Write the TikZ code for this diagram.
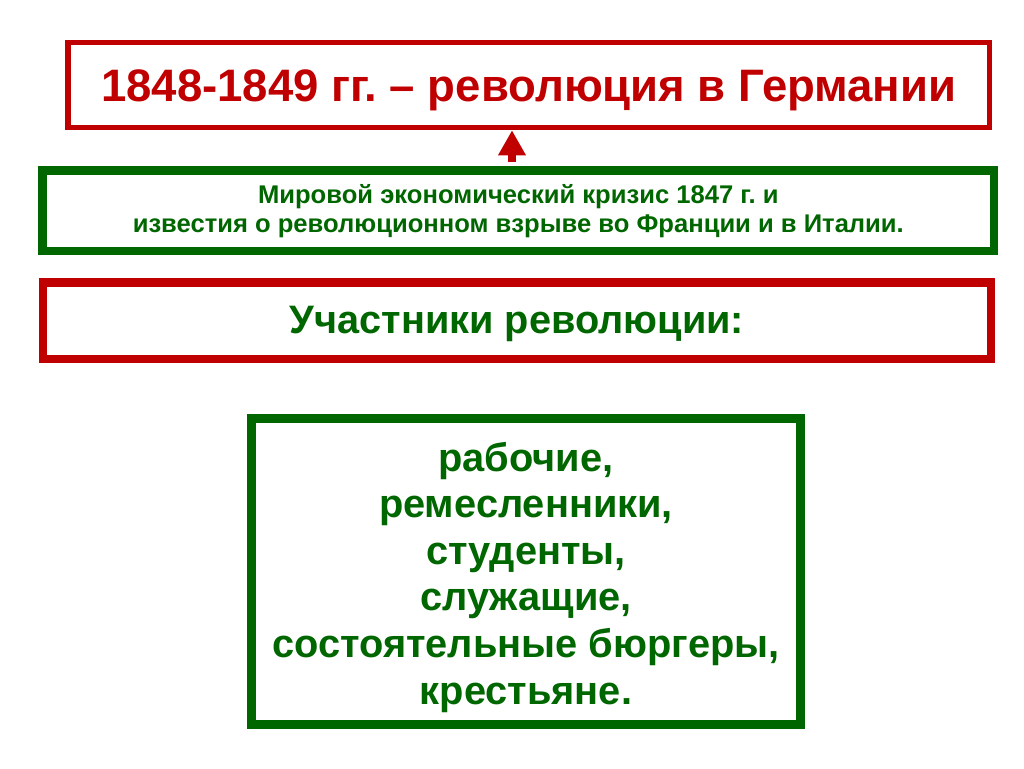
\documentclass[tikz,border=0pt]{standalone}
\usepackage{fontspec}
\setmainfont{Liberation Sans}
\usetikzlibrary{arrows.meta}
\definecolor{boxred}{RGB}{192,0,0}
\definecolor{boxgreen}{RGB}{0,102,0}
\frenchspacing

\begin{document}
\begin{tikzpicture}[x=1pt,y=-1pt,
        redbox/.style={draw=boxred,line width=5.5pt,inner sep=0pt,align=center},
        greenbox/.style={draw=boxgreen,line width=8.5pt,inner sep=0pt,align=center,text=boxgreen}]
        \useasboundingbox (0,0) rectangle (1024,768);
        \node[redbox,minimum width=921.5pt,minimum height=85pt,text=boxred,
            font=\fontsize{45.5}{50}\selectfont\bfseries] (title) at (528.75,85)
            {\rule{0pt}{43pt}1848-1849 гг. – революция в Германии};
        \node[greenbox,minimum width=951.5pt,minimum height=80.5pt,
            font=\fontsize{25.6}{29}\selectfont\bfseries] (cause) at (518.25,210.75)
            {Мировой экономический кризис 1847 г. и\\
             известия о революционном взрыве во Франции и в Италии.};
        \node[redbox,line width=8.5pt,minimum width=948pt,minimum height=76.5pt,text=boxgreen,
            font=\fontsize{39.7}{44}\selectfont\bfseries] (part) at (517,320.75)
            {\rule{0pt}{34.5pt}Участники революции:};
        \node[greenbox,line width=9pt,minimum width=549pt,minimum height=305.5pt,
            font=\fontsize{39.8}{46.6}\selectfont\bfseries] (list) at (526,571.25)
            {\rule{0pt}{41pt}рабочие,\\ ремесленники,\\ студенты,\\ служащие,\\
             состоятельные бюргеры,\\ крестьяне.};
        \coordinate (arrx) at (512,0);
        \draw[boxred,line width=8pt,-{Triangle[width=26pt,length=25pt]},shorten <=4pt]
            (cause.north -| arrx) -- (title.south -| arrx);
    \end{tikzpicture}
\end{document}
